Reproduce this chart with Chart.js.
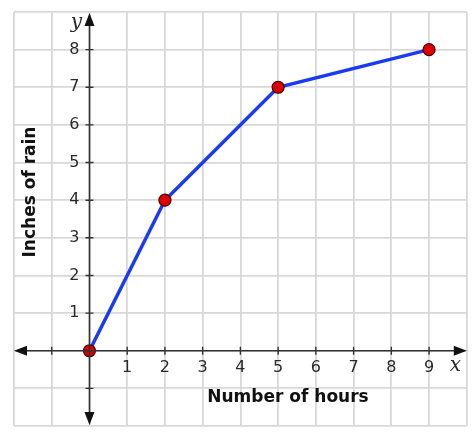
<!DOCTYPE html>
<html>
<head>
<meta charset="utf-8">
<script src="https://cdn.jsdelivr.net/npm/chart.js@4/dist/chart.umd.min.js"></script>
<style>
  html, body { margin: 0; padding: 0; background: #fff; }
  #wrap { width: 474px; height: 439px; }
</style>
</head>
<body>
<div id="wrap"><canvas id="rainChart"></canvas></div>
<script>
// data
const hours = [0, 2, 5, 9];
const rain = [0, 4, 7, 8];
const xTickLabels = [1, 2, 3, 4, 5, 6, 7, 8, 9];
const yTickLabels = [1, 2, 3, 4, 5, 6, 7, 8];
const xTickMarks = [-1, 1, 2, 3, 4, 5, 6, 7, 8, 9];
const yTickMarks = [-1, 1, 2, 3, 4, 5, 6, 7, 8];

const axisColor = "#333333";

// draws the axes through the origin, with arrows, ticks and labels
const axesPlugin = {
    id: "axesThroughOrigin",
    afterDatasetsDraw(chart) {
        const ctx = chart.ctx;
        const xs = chart.scales.x;
        const ys = chart.scales.y;
        const area = chart.chartArea;
        const x0 = xs.getPixelForValue(0);
        const y0 = ys.getPixelForValue(0);

        ctx.save();
        ctx.strokeStyle = axisColor;
        ctx.fillStyle = "#111";
        ctx.lineWidth = 1.6;

        // axis lines
        ctx.beginPath();
        ctx.moveTo(area.left + 8, y0);
        ctx.lineTo(area.right - 8, y0);
        ctx.moveTo(x0, area.top + 8);
        ctx.lineTo(x0, area.bottom - 8);
        ctx.stroke();

        // arrows
        const arrow = (tx, ty, dx, dy) => {
            const len = 13, half = 5;
            const bx = tx - dx * len, by = ty - dy * len;
            ctx.beginPath();
            ctx.moveTo(tx, ty);
            ctx.lineTo(bx - dy * half, by + dx * half);
            ctx.lineTo(bx + dy * half, by - dx * half);
            ctx.closePath();
            ctx.fill();
        };
        arrow(area.right, y0, 1, 0);
        arrow(area.left, y0, -1, 0);
        arrow(x0, area.top + 1, 0, -1);
        arrow(x0, area.bottom - 1, 0, 1);

        // tick marks
        ctx.lineWidth = 1.4;
        ctx.beginPath();
        xTickMarks.forEach(v => {
            const px = xs.getPixelForValue(v);
            ctx.moveTo(px, y0 - 4);
            ctx.lineTo(px, y0 + 4);
        });
        yTickMarks.forEach(v => {
            const py = ys.getPixelForValue(v);
            ctx.moveTo(x0 - 4, py);
            ctx.lineTo(x0 + 4, py);
        });
        ctx.stroke();

        // tick labels
        ctx.fillStyle = "#2a2a2a";
        ctx.font = "16px 'DejaVu Sans'";
        ctx.textAlign = "center";
        ctx.textBaseline = "middle";
        xTickLabels.forEach(v => {
            ctx.fillText(String(v), xs.getPixelForValue(v), y0 + 17);
        });
        ctx.textAlign = "right";
        yTickLabels.forEach(v => {
            ctx.fillText(String(v), x0 - 10, ys.getPixelForValue(v));
        });

        // variable names
        ctx.font = "italic 20px 'DejaVu Serif'";
        ctx.textAlign = "center";
        ctx.fillText("x", xs.getPixelForValue(9.7), y0 + 15);
        ctx.fillText("y", x0 - 13, area.top + 11);

        // axis titles
        ctx.fillStyle = "#111";
        ctx.font = "bold 17px 'DejaVu Sans'";
        ctx.fillText("Number of hours", 288, 398);
        ctx.translate(31, 192);
        ctx.rotate(-Math.PI / 2);
        ctx.fillText("Inches of rain", 0, 0);
        ctx.restore();
    }
};

new Chart("rainChart", {
    type: "scatter",
    data: {
        datasets: [{
            label: "Inches of rain",
            data: hours.map((h, i) => ({ x: h, y: rain[i] })),
            showLine: true,
            borderColor: "#1a3af5",
            borderWidth: 3.5,
            pointRadius: 6,
            pointHoverRadius: 6,
            pointBackgroundColor: "#dd0000",
            pointBorderColor: "#4a0000",
            pointBorderWidth: 1.2
        }]
    },
    options: {
        responsive: true,
        maintainAspectRatio: false,
        animation: false,
        layout: { padding: { left: 14, right: 7, top: 12, bottom: 13 } },
        plugins: {
            legend: { display: false },
            tooltip: { enabled: false }
        },
        scales: {
            x: {
                type: "linear",
                min: -2,
                max: 10,
                ticks: { display: false, stepSize: 1 },
                border: { display: false },
                grid: { color: "#d8d8d8", lineWidth: 1.8, drawTicks: false }
            },
            y: {
                type: "linear",
                min: -2,
                max: 9,
                ticks: { display: false, stepSize: 1 },
                border: { display: false },
                grid: { color: "#d8d8d8", lineWidth: 1.8, drawTicks: false }
            }
        }
    },
    plugins: [axesPlugin]
});
</script>
</body>
</html>
